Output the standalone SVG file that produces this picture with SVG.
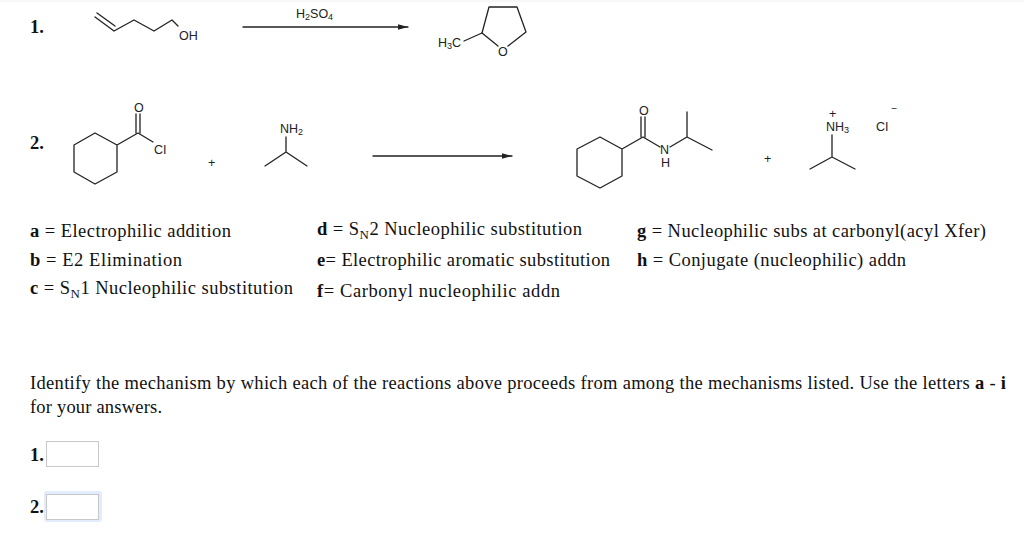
<svg xmlns="http://www.w3.org/2000/svg" width="1024" height="539" viewBox="0 0 1024 539">
<style>
.b{stroke:#222;stroke-width:1.3;fill:none;stroke-linecap:round;stroke-linejoin:round}
.c{font-family:"Liberation Sans",Arial,sans-serif;font-size:12.5px;fill:#222}
.t{font-family:"Liberation Serif","Times New Roman",serif;font-size:18.5px;fill:#111}
.n{font-weight:bold}
.box{fill:#fff;stroke:#c8c8c8;stroke-width:1}
</style>
<defs><marker id="ah" markerWidth="8" markerHeight="6" refX="8" refY="3" orient="auto"><path d="M0,0.8 L8,3 L0,5.2z" fill="#222"/></marker></defs>
<rect width="1024" height="539" fill="#fff"/>
<line x1="0" y1="1" x2="1024" y2="1" stroke="#eee"/>
<g id="r1">
<text class="t n" x="30" y="33">1.</text>
<g id="pentenol"><path class="b" d="M95,17 L114,31 L134,20 L154,31 L172,20 L178,26"/><path class="b" d="M97,13 L115,26"/><text class="c" x="179" y="40">OH</text></g>
<g id="thf"><text class="c" x="438" y="47">H<tspan font-size="9" dy="2">3</tspan><tspan dy="-2">C</tspan></text><path class="b" d="M464,41 L482,33 L489,7 L517,7 L526,32 L508,46"/><path class="b" d="M482,33 L498,46"/><text class="c" x="498" y="56">O</text></g>
</g>
<g id="r2">
<text class="t n" x="30" y="149">2.</text>
<g id="acylcl"><path class="b" d="M95,133 L117,145 L117,172 L95,184 L74,172 L74,145 Z M117,145 L138,133 L153,142"/><path class="b" d="M136,133 V114 M140,133 V114"/><text class="c" x="134" y="112">O</text><text class="c" x="154" y="154">CI</text></g>
<text class="c" x="208" y="167">+</text>
<g id="amine"><text class="c" x="280" y="133">NH<tspan font-size="9" dy="2">2</tspan></text><path class="b" d="M286,137 V152 L265,166 M286,152 L307,166"/></g>
<g id="amide"><path class="b" d="M600,137 L622,149 L622,176 L600,188 L577,176 L577,149 Z M622,149 L643,137 L660,147 M670,147 L687,137 L687,112 M687,137 L712,150"/><path class="b" d="M641,137 V117 M645,137 V117"/><text class="c" x="639" y="115">O</text><text class="c" x="660" y="154">N</text><text class="c" x="661" y="167">H</text></g>
<text class="c" x="764" y="163">+</text>
<g id="salt"><text class="c" x="829" y="118" font-size="10">+</text><text class="c" x="826" y="131">NH<tspan font-size="9" dy="2">3</tspan></text><text class="c" x="876" y="131">CI</text><text class="c" x="892" y="118">‾</text><path class="b" d="M832,135 V157 L810,169 M832,157 L855,169"/></g>
</g>
<g id="connectors">
<line class="b" x1="243" y1="27" x2="408" y2="27" marker-end="url(#ah)"/>
<text class="c" x="296" y="18">H<tspan font-size="9" dy="2">2</tspan><tspan dy="-2">SO</tspan><tspan font-size="9" dy="2">4</tspan></text>
<line class="b" x1="373" y1="156" x2="512" y2="156" marker-end="url(#ah)"/>
</g>
<g id="legend">
<text class="t" x="30" y="237" textLength="201"><tspan class="n">a</tspan> = Electrophilic addition</text>
<text class="t" x="30" y="266" textLength="152"><tspan class="n">b</tspan> = E2 Elimination</text>
<text class="t" x="30" y="294" textLength="263"><tspan class="n">c</tspan> = S<tspan font-size="13" dy="4">N</tspan><tspan dy="-4">1 Nucleophilic substitution</tspan></text>
<text class="t" x="317" y="235" textLength="265"><tspan class="n">d</tspan> = S<tspan font-size="13" dy="4">N</tspan><tspan dy="-4">2 Nucleophilic substitution</tspan></text>
<text class="t" x="317" y="266" textLength="293"><tspan class="n">e</tspan>= Electrophilic aromatic substitution</text>
<text class="t" x="317" y="297" textLength="243"><tspan class="n">f</tspan>= Carbonyl nucleophilic addn</text>
<text class="t" x="637" y="237" textLength="349"><tspan class="n">g</tspan> = Nucleophilic subs at carbonyl(acyl Xfer)</text>
<text class="t" x="637" y="266" textLength="269"><tspan class="n">h</tspan> = Conjugate (nucleophilic) addn</text>
</g>
<text class="t" x="30" y="389" textLength="976">Identify the mechanism by which each of the reactions above proceeds from among the mechanisms listed. Use the letters <tspan class="n">a</tspan> - <tspan class="n">i</tspan></text>
<text class="t" x="30" y="413" textLength="132">for your answers.</text>
<text class="t n" x="30" y="461">1.</text>
<rect class="box" x="46.5" y="441.5" width="52" height="25"/>
<text class="t n" x="30" y="513">2.</text>
<rect x="44" y="491" width="58" height="31" rx="3" fill="#e3ecfb"/>
<rect class="box" x="46.5" y="494.5" width="52" height="25" stroke="#aab4c8"/>
</svg>
